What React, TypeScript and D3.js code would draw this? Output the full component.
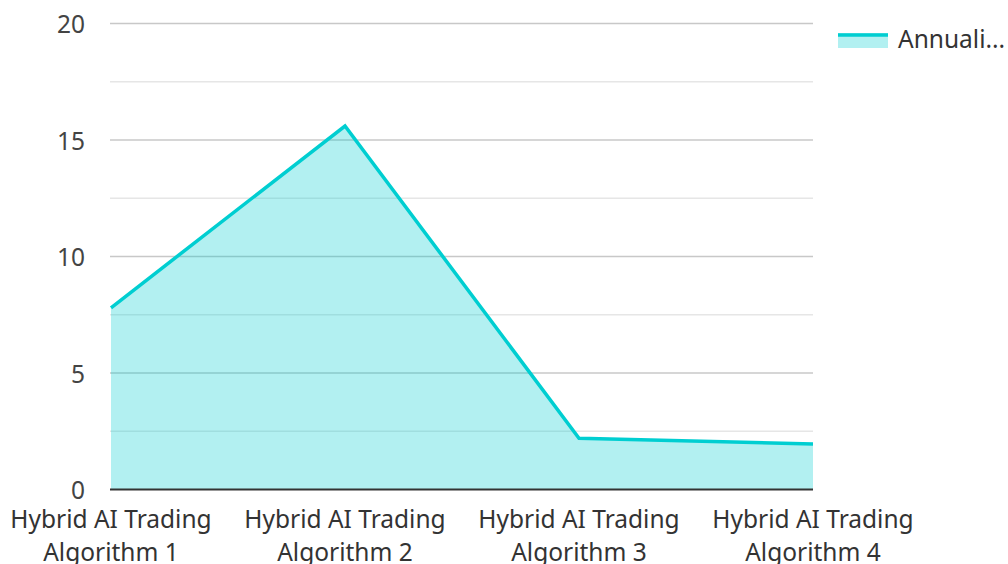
import React from "react";
import * as d3 from "d3";

const categories = [
  "Hybrid AI Trading Algorithm 1",
  "Hybrid AI Trading Algorithm 2",
  "Hybrid AI Trading Algorithm 3",
  "Hybrid AI Trading Algorithm 4",
];
const values = [7.8, 15.6, 2.2, 1.95];
const majorTicks = [0, 5, 10, 15, 20];
const minorTicks = [2.5, 7.5, 12.5, 17.5];
const seriesName = "Annuali...";

const W = 1008;
const H = 564;
const left = 111;
const right = 813;
const top = 23.5;
const bottom = 489.5;
const color = "#00CED1";
const font = "'Noto Sans', sans-serif";

export default function App() {
  const x = d3.scalePoint<number>().domain(d3.range(categories.length)).range([left, right]);
  const y = d3.scaleLinear().domain([0, 20]).range([bottom, top]);
  const area = d3
    .area<number>()
    .x((_, i) => x(i)!)
    .y0(y(0))
    .y1((d) => y(d));
  const line = d3
    .line<number>()
    .x((_, i) => x(i)!)
    .y((d) => y(d));

  return (
    <svg
      width={W}
      height={H}
      style={{ position: "absolute", left: 0, top: 0, fontFamily: font }}
    >
      <rect width={W} height={H} fill="#fff" />
      {minorTicks.map((t) => (
        <line key={"m" + t} x1={left - 1} x2={right} y1={y(t)} y2={y(t)} stroke="#e6e6e6" strokeWidth={1.5} />
      ))}
      {majorTicks
        .filter((t) => t !== 0)
        .map((t) => (
          <line key={"g" + t} x1={left - 1} x2={right} y1={y(t)} y2={y(t)} stroke="#c8c8c8" strokeWidth={1.5} />
        ))}
      <path d={area(values)!} fill={color} fillOpacity={0.3} />
      <path d={line(values)!} fill="none" stroke={color} strokeWidth={3.5} />
      <line x1={left - 1} x2={right} y1={y(0)} y2={y(0)} stroke="#333" strokeWidth={2} />
      {majorTicks.map((t) => (
        <text
          key={"t" + t}
          x={85}
          y={y(t)}
          textAnchor="end"
          dominantBaseline="central"
          fontSize={24.5}
          fill="#444"
        >
          {t}
        </text>
      ))}
      {categories.map((c, i) => {
        const words = c.split(" ");
        const l1 = words.slice(0, 3).join(" ");
        const l2 = words.slice(3).join(" ");
        return (
          <text key={c} x={x(i)} textAnchor="middle" fontSize={24.5} fill="#333">
            <tspan x={x(i)} y={528}>
              {l1}
            </tspan>
            <tspan x={x(i)} y={561}>
              {l2}
            </tspan>
          </text>
        );
      })}
      <g>
        <rect x={838} y={33} width={50} height={15} fill={color} fillOpacity={0.3} />
        <line x1={838} x2={888} y1={35} y2={35} stroke={color} strokeWidth={3.5} />
        <text x={898} y={38} dominantBaseline="central" fontSize={24.5} fill="#333">
          {seriesName}
        </text>
      </g>
    </svg>
  );
}
